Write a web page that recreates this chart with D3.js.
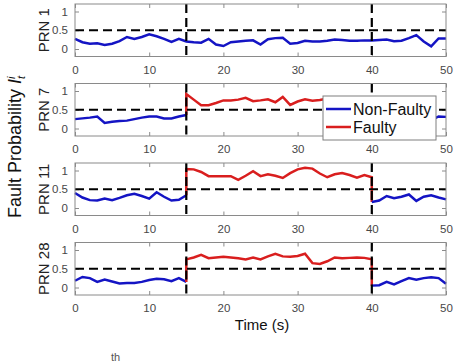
<!DOCTYPE html>
<html>
<head>
<meta charset="utf-8">
<script src="https://cdn.jsdelivr.net/npm/d3@7"></script>
<style>
  body { margin: 0; background: #fff; }
  text { font-family: "Liberation Sans", Arial, sans-serif; }
</style>
</head>
<body>
<div id="chart"></div>
<script>
// data (time step 1 s)
var time = d3.range(0, 51);
var xTicks = [0, 10, 20, 30, 40, 50];
var yTicks = [0, 0.5, 1];
var prnNames = ["PRN 1", "PRN 7", "PRN 11", "PRN 28"];
var faultStart = 15, faultEnd = 40, threshold = 0.5;
var legendLabels = ["Non-Faulty", "Faulty"];

// PRN 1 never faulty
var prn1NonFaulty = [0.27,0.18,0.14,0.15,0.11,0.14,0.21,0.32,0.27,0.32,
                     0.39,0.34,0.27,0.19,0.27,0.2,0.18,0.17,0.27,0.12,
                     0.08,0.18,0.2,0.22,0.23,0.12,0.26,0.29,0.3,0.14,
                     0.16,0.22,0.2,0.2,0.22,0.25,0.24,0.22,0.22,0.23,
                     0.23,0.24,0.25,0.21,0.22,0.29,0.37,0.2,0.07,0.28,0.28];

// t = 0..15
var prn7Before  = [0.25,0.27,0.29,0.32,0.15,0.18,0.2,0.21,0.25,0.29,0.32,0.32,0.27,0.27,0.32,0.36];
var prn11Before = [0.4,0.28,0.21,0.2,0.25,0.21,0.27,0.34,0.38,0.32,0.25,0.42,0.3,0.2,0.22,0.34];
var prn28Before = [0.18,0.28,0.25,0.15,0.21,0.16,0.11,0.12,0.12,0.15,0.2,0.23,0.22,0.17,0.25,0.15];

// t = 15..40
var prn7Faulty  = [0.92,0.77,0.62,0.62,0.68,0.75,0.75,0.77,0.82,0.73,0.75,0.78,0.7,0.84,0.63,0.72,
                   0.78,0.74,0.76,0.8,0.75,0.8,0.77,0.82,0.78,0.8];
var prn11Faulty = [1.04,1.03,0.96,0.85,0.85,0.85,0.85,0.75,0.86,0.98,0.85,0.9,0.86,0.8,0.93,1.03,
                   1.07,1.05,0.92,0.82,0.9,0.93,0.88,0.81,0.88,0.82];
var prn28Faulty = [0.75,0.8,0.87,0.78,0.8,0.82,0.8,0.78,0.75,0.8,0.75,0.83,0.9,0.83,0.82,0.84,
                   0.9,0.65,0.63,0.7,0.8,0.78,0.79,0.8,0.79,0.75];

// t = 40..50
var prn7After  = [0.3,0.26,0.24,0.27,0.25,0.28,0.26,0.25,0.22,0.32,0.31];
var prn11After = [0.16,0.2,0.32,0.26,0.3,0.36,0.19,0.3,0.34,0.28,0.23];
var prn28After = [0.05,0.06,0.15,0.08,0.17,0.25,0.21,0.25,0.27,0.25,0.1];

var panels = [
  { name: prnNames[0], before: prn1NonFaulty, faulty: null, after: null },
  { name: prnNames[1], before: prn7Before, faulty: prn7Faulty, after: prn7After },
  { name: prnNames[2], before: prn11Before, faulty: prn11Faulty, after: prn11After },
  { name: prnNames[3], before: prn28Before, faulty: prn28Faulty, after: prn28After }
];

var blue = "#1414c4", red = "#d91e1e", axisGray = "#8a8a8a", labelGray = "#474747";

var svg = d3.select("#chart").append("svg")
    .attr("width", 474)
    .attr("height", 362);

var x = d3.scaleLinear().domain([0, 50]).range([75, 446]);
var panelTop = [4, 83.5, 163, 242.5];
var panelHeight = 52.5;

function pts(values, t0) {
  return values.map((v, i) => [time[t0 + i], v]);
}

panels.forEach(function(p, i) {
  var y = d3.scaleLinear().domain([-0.2, 1.2]).range([panelTop[i] + panelHeight, panelTop[i]]);
  var g = svg.append("g");

  var line = d3.line().x(d => x(d[0])).y(d => y(d[1]));

  // ticks and labels
  var ax = g.append("g").attr("transform", "translate(0," + y.range()[0] + ")")
      .call(d3.axisBottom(x).tickValues(xTicks).tickSizeInner(-4).tickSizeOuter(0).tickPadding(9));
  g.append("g").attr("transform", "translate(0," + y.range()[1] + ")")
      .call(d3.axisTop(x).tickValues(xTicks).tickSizeInner(-4).tickSizeOuter(0).tickFormat(""));
  var ay = g.append("g").attr("transform", "translate(" + x.range()[0] + ",0)")
      .call(d3.axisLeft(y).tickValues(yTicks).tickSizeInner(-4).tickSizeOuter(0).tickPadding(7).tickFormat(d => String(d)));
  g.append("g").attr("transform", "translate(" + x.range()[1] + ",0)")
      .call(d3.axisRight(y).tickValues(yTicks).tickSizeInner(-4).tickSizeOuter(0).tickFormat(""));
  g.selectAll(".domain").remove();
  g.selectAll(".tick line").attr("stroke", axisGray);
  g.selectAll(".tick text").attr("fill", labelGray).style("font-size", "11.5px");

  // data lines
  if (p.faulty) {
    g.append("path").datum(pts(p.before, 0))
        .attr("d", line).attr("fill", "none").attr("stroke", blue).attr("stroke-width", 2.5);
    var fpts = [[faultStart, p.before[p.before.length - 1]]]
        .concat(pts(p.faulty, faultStart))
        .concat([[faultEnd, p.after[0]]]);
    g.append("path").datum(fpts)
        .attr("d", line).attr("fill", "none").attr("stroke", red).attr("stroke-width", 2.5);
    g.append("path").datum(pts(p.after, faultEnd))
        .attr("d", line).attr("fill", "none").attr("stroke", blue).attr("stroke-width", 2.5);
  } else {
    g.append("path").datum(pts(p.before, 0))
        .attr("d", line).attr("fill", "none").attr("stroke", blue).attr("stroke-width", 2.5);
  }

  // threshold and fault window lines
  g.append("line")
      .attr("x1", x(0)).attr("x2", x(50))
      .attr("y1", y(threshold)).attr("y2", y(threshold))
      .attr("stroke", "#000").attr("stroke-width", 2.2).attr("stroke-dasharray", "9,5");
  [faultStart, faultEnd].forEach(function(t) {
    g.append("line")
        .attr("x1", x(t)).attr("x2", x(t))
        .attr("y1", y.range()[1]).attr("y2", y.range()[0])
        .attr("stroke", "#000").attr("stroke-width", 2.2).attr("stroke-dasharray", "9,5");
  });

  // box
  g.append("rect")
      .attr("x", x.range()[0]).attr("y", y.range()[1])
      .attr("width", x.range()[1] - x.range()[0]).attr("height", panelHeight)
      .attr("fill", "none").attr("stroke", axisGray).attr("stroke-width", 1);

  // panel label
  g.append("text")
      .attr("transform", "translate(49," + (panelTop[i] + panelHeight / 2) + ") rotate(-90)")
      .attr("text-anchor", "middle")
      .attr("fill", "#222")
      .style("font-size", "15px")
      .text(p.name);
});

// legend in PRN 7 panel
var lg = svg.append("g");
lg.append("rect").attr("x", 323).attr("y", 96).attr("width", 113).attr("height", 44)
    .attr("fill", "#fff").attr("stroke", "#7f7f7f").attr("stroke-width", 1);
[blue, red].forEach(function(c, i) {
  var yy = 109 + i * 18;
  lg.append("line").attr("x1", 326).attr("x2", 351).attr("y1", yy).attr("y2", yy)
      .attr("stroke", c).attr("stroke-width", 2.5);
  lg.append("text").attr("x", 353).attr("y", yy + 5.5)
      .attr("fill", "#111").style("font-size", "16px").text(legendLabels[i]);
});

// shared labels
var yl = svg.append("text")
    .attr("transform", "translate(20.5,147) rotate(-90)")
    .attr("text-anchor", "middle")
    .attr("fill", "#111")
    .style("font-size", "18px");
yl.append("tspan").text("Fault Probability ");
yl.append("tspan").style("font-style", "italic").text("I");
yl.append("tspan").style("font-style", "italic").style("font-size", "11px").attr("dy", 4).text("t");
yl.append("tspan").style("font-style", "italic").style("font-size", "11px").attr("dx", -3).attr("dy", -10).text("i");

svg.append("text")
    .attr("x", 262).attr("y", 330)
    .attr("text-anchor", "middle")
    .attr("fill", "#111")
    .style("font-size", "15px")
    .text("Time (s)");

// cut-off caption fragment at the bottom
svg.append("text")
    .attr("x", 111).attr("y", 361)
    .attr("fill", "#555")
    .style("font-size", "11px")
    .text("th");
</script>
</body>
</html>
